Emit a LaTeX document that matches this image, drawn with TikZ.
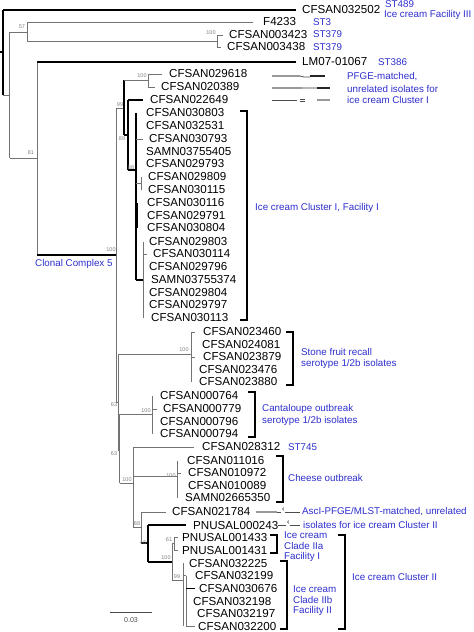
\documentclass[tikz,border=0pt]{standalone}
\usepackage{fontspec}
\setmainfont{Liberation Sans}
\definecolor{lblue}{RGB}{45,45,205}
\definecolor{brgray}{RGB}{115,115,115}
\begin{document}
\begin{tikzpicture}[x=1pt,y=-1pt,
  leaf/.style={anchor=west,inner sep=0pt,font=\fontsize{11.6}{12}\selectfont},
  lab/.style={anchor=west,inner sep=0pt,text=lblue,font=\fontsize{9.8}{11}\selectfont},
  sup/.style={inner sep=0pt,text=gray,font=\fontsize{5.5}{6}\selectfont},
  br/.style={draw=brgray,line width=0.9pt},
  brk/.style={draw=black,line width=1.3pt},
  brack/.style={draw=black,line width=1.5pt},
  bandk/.style={draw=black!85,line width=1.6pt},
  bandg/.style={draw=gray!80,line width=2.2pt},
  bandt/.style={draw=black!70,line width=0.8pt}]
\useasboundingbox (0,0) rectangle (474,632);

% ---------- leaves ----------
\node[leaf] (l1) at (302,10) {CFSAN032502};
\node[leaf] (l2) at (263,22) {F4233};
\node[leaf] (l3) at (229,35) {CFSAN003423};
\node[leaf] (l4) at (227,47) {CFSAN003438};
\node[leaf] (l5) at (302,62) {LM07-01067};
\node[leaf] (l6) at (169,74) {CFSAN029618};
\node[leaf] (l7) at (161,87) {CFSAN020389};
\node[leaf] (l8) at (150,100) {CFSAN022649};
\node[leaf] (c1) at (146,113) {CFSAN030803};
\node[leaf] (c2) at (146,126) {CFSAN032531};
\node[leaf] (c3) at (149,139) {CFSAN030793};
\node[leaf] (c4) at (146,152) {SAMN03755405};
\node[leaf] (c5) at (146,164) {CFSAN029793};
\node[leaf] (c6) at (148,177) {CFSAN029809};
\node[leaf] (c7) at (148,190) {CFSAN030115};
\node[leaf] (c8) at (147,203) {CFSAN030116};
\node[leaf] (c9) at (147,216) {CFSAN029791};
\node[leaf] (c10) at (147,228) {CFSAN030804};
\node[leaf] (c11) at (149,242) {CFSAN029803};
\node[leaf] (c12) at (153,254) {CFSAN030114};
\node[leaf] (c13) at (149,267) {CFSAN029796};
\node[leaf] (c14) at (151,280) {SAMN03755374};
\node[leaf] (c15) at (149,293) {CFSAN029804};
\node[leaf] (c16) at (149,305) {CFSAN029797};
\node[leaf] (c17) at (151,318) {CFSAN030113};
\node[leaf] (s1) at (203,332) {CFSAN023460};
\node[leaf] (s2) at (202,345) {CFSAN024081};
\node[leaf] (s3) at (203,357) {CFSAN023879};
\node[leaf] (s4) at (199,370) {CFSAN023476};
\node[leaf] (s5) at (199,382) {CFSAN023880};
\node[leaf] (t1) at (160,396) {CFSAN000764};
\node[leaf] (t2) at (163,409) {CFSAN000779};
\node[leaf] (t3) at (160,422) {CFSAN000796};
\node[leaf] (t4) at (160,434) {CFSAN000794};
\node[leaf] (l9) at (202,447) {CFSAN028312};
\node[leaf] (h1) at (187,461) {CFSAN011016};
\node[leaf] (h2) at (188,473) {CFSAN010972};
\node[leaf] (h3) at (188,485) {CFSAN010089};
\node[leaf] (h4) at (185,498) {SAMN02665350};
\node[leaf] (l10) at (172,512) {CFSAN021784};
\node[leaf] (p1) at (193,525) {PNUSAL000243};
\node[leaf] (p2) at (182,537) {PNUSAL001433};
\node[leaf] (p3) at (182,550) {PNUSAL001431};
\node[leaf] (b1) at (189,563) {CFSAN032225};
\node[leaf] (b2) at (195,575.5) {CFSAN032199};
\node[leaf] (b3) at (199,588.5) {CFSAN030676};
\node[leaf] (b4) at (193,601) {CFSAN032198};
\node[leaf] (b5) at (197,613.5) {CFSAN032197};
\node[leaf] (b6) at (198,626) {CFSAN032200};

% ---------- internal nodes ----------
\coordinate (n0) at (3,52);
\coordinate (n1) at (9.5,95);
\coordinate (n57) at (27,32);
\coordinate (na) at (217,41);
\coordinate (n81) at (37,158);
\coordinate (cc5) at (116,255);
\coordinate (n99) at (124,108);
\coordinate (nb) at (148,80);
\coordinate (n89) at (128,135);
\coordinate (n88) at (136,170);
\coordinate (ns1) at (141,183);
\coordinate (ns2) at (143,280);
\coordinate (n63a) at (118,402);
\coordinate (nst) at (191,354);
\coordinate (n63b) at (119.5,450);
\coordinate (nct) at (152,414);
\coordinate (nc) at (133,483);
\coordinate (nch) at (177,476);
\coordinate (n88b) at (141,527);
\coordinate (n46) at (148,543);
\coordinate (nd) at (172,562);
\coordinate (n61) at (174,543.5);
\coordinate (n99b) at (183,580);

% ---------- branches ----------
\draw[brk] (0,52) -- (n0);
\draw[brk] (n0 |- l1) -- (n0 |- n1);
\draw[brk] (n0 |- l1) -- ([xshift=-6pt]l1.west);
\draw[br] (n0 |- n1) -- (n1);
\draw[br] (n1 |- n57) -- (n1 |- n81);
\draw[br] (n1 |- n57) -- (n57);
\draw[br] (n1 |- n81) -- (n81);
\draw[br] (n57 |- l2) -- (n57 |- na);
\draw[br] (n57 |- l2) -- ([xshift=-10pt]l2.west);
\draw[br] (n57 |- na) -- (na);
\draw[br] (na |- l3) -- (na |- l4);
\draw[br] (na |- l3) -- ([xshift=-6pt]l3.west);
\draw[br] (na |- l4) -- ([xshift=-6pt]l4.west);
\draw[br] (n81 |- l5) -- (n81 |- cc5);
\draw[brk] (n81 |- l5) -- ([xshift=-6pt]l5.west);
\draw[brk] (n81 |- cc5) -- (cc5);
\draw[br] (cc5 |- n99) -- (cc5 |- n63a);
\draw[br] (cc5 |- n99) -- (n99);
\draw[br] (cc5 |- n63a) -- (n63a);
% cluster I side
\draw[brk] (n99 |- nb) -- (n99 |- n89);
\draw[br] (n99 |- nb) -- (nb);
\draw[br] (nb |- l6) -- (nb |- l7);
\draw[br] (nb |- l6) -- ([xshift=-7pt]l6.west);
\draw[br] (nb |- l7) -- ([xshift=-6pt]l7.west);
\draw[brk] (n99 |- n89) -- (n89);
\draw[brk] (n89 |- l8) -- (n89 |- n88);
\draw[brk] (n89 |- l8) -- ([xshift=-7pt]l8.west);
\draw[brk] (n89 |- n88) -- (n88);
\draw[brk] (n88 |- c1) -- (n88 |- ns2);
\draw[br] (n88 |- c3) -- ([xshift=-6pt]c3.west);
\draw[br] (n88 |- ns1) -- (ns1);
\draw[br] (ns1 |- c6) -- (ns1 |- c7);
\draw[brk] ([xshift=1.5pt]n88 |- c8) -- ([xshift=1.5pt]n88 |- c10);
\draw[brk] (n88 |- ns2) -- (ns2);
\draw[br,line width=0.7pt] (ns2 |- c11) -- (ns2 |- c17);
\draw[br,line width=0.7pt] (ns2 |- c12) -- ([xshift=-6pt]c12.west);
% lower part of CC5
\draw[br] (n63a |- nst) -- (n63a |- n63b);
\draw[br] (n63a |- nst) -- (nst);
\draw[br] (nst |- s1) -- (nst |- s5);
\draw[br] (nst |- s1) -- ([xshift=-8pt]s1.west);
\draw[br] (nst |- s3) -- ([xshift=-8pt]s3.west);
\draw[br] (n63a |- n63b) -- (n63b);
\draw[br] (n63b |- nct) -- (n63b |- nc);
\draw[br] (n63b |- nct) -- (nct);
\draw[br] (nct |- t1) -- (nct |- t4);
\draw[br] (nct |- t2) -- ([xshift=-6pt]t2.west);
\draw[br] (n63b |- nc) -- (nc);
\draw[br] (nc |- l9) -- (nc |- n88b);
\draw[br] (nc |- l9) -- ([xshift=-8pt]l9.west);
\draw[br] (nc |- nch) -- (nch);
\draw[br] (nch |- h1) -- (nch |- h4);
\draw[br] (nch |- h2) -- ([xshift=-7pt]h2.west);
\draw[br] (nc |- n88b) -- (n88b);
\draw[br] (n88b |- l10) -- (n88b |- n46);
\draw[br] (n88b |- l10) -- ([xshift=-6pt]l10.west);
\draw[brk] (n88b |- n46) -- (n46);
\draw[brk] (n46 |- p1) -- (n46 |- nd);
\draw[brk] (n46 |- p1) -- ([xshift=-7pt]p1.west);
\draw[brk] (n46 |- nd) -- (nd);
\draw[br] (nd |- n61) -- (nd |- n99b);
\draw[br] (nd |- n61) -- (n61);
\draw[br] (n61 |- p2) -- (n61 |- p3);
\draw[br] (n61 |- p2) -- ([xshift=-4pt]p2.west);
\draw[br] (n61 |- p3) -- ([xshift=-4pt]p3.west);
\draw[br] (nd |- n99b) -- (n99b);
\draw[br] (n99b |- b1) -- (n99b |- b6);
\draw[br] ([xshift=3pt]n99b |- b2) -- ([xshift=3pt]n99b |- b6);
\draw[br] (n99b |- b2) -- ([xshift=3pt]n99b |- b2);
\draw[brk] ([xshift=3pt]n99b |- b3) -- ([xshift=-4pt]b3.west);
\draw[br] ([xshift=3pt]n99b |- b6) -- ([xshift=-3pt]b6.west);

% ---------- support values ----------
\node[sup] at (22,27) {57};
\node[sup] at (211,33) {100};
\node[sup] at (31,153) {81};
\node[sup] at (111,250) {100};
\node[sup] at (120,105) {99};
\node[sup] at (142,76) {100};
\node[sup] at (122,139) {89};
\node[sup] at (131,168) {88};
\node[sup] at (184,350) {100};
\node[sup] at (114,405) {63};
\node[sup] at (146,411) {100};
\node[sup] at (114,454) {63};
\node[sup] at (127,480) {100};
\node[sup] at (171,476) {100};
\node[sup] at (137,524) {88};
\node[sup] at (143,543) {46};
\node[sup] at (166,558) {100};
\node[sup] at (169,540) {61};
\node[sup] at (177,577) {99};

% ---------- brackets ----------
\draw[brack] (240,111) -- (247,111) -- (247,320) -- (240,320);
\draw[brack] (286,332) -- (293,332) -- (293,385) -- (286,385);
\draw[brack] (248,392) -- (255,392) -- (255,437) -- (248,437);
\draw[brack] (276,456) -- (283,456) -- (283,502) -- (276,502);
\draw[brack] (270,535) -- (277,535) -- (277,553) -- (270,553);
\draw[brack] (280,561) -- (287,561) -- (287,629) -- (280,629);
\draw[brack] (338,535) -- (345,535) -- (345,629) -- (338,629);

% ---------- PFGE band marks ----------
\draw[bandg] (272,76) -- (300,76);
\draw[bandt] (300,76) -- (304,77) -- (310,77);
\draw[bandk] (310,76) -- (325,76);
\draw[bandg] (272,88) -- (302,88);
\draw[draw=gray!55,line width=1.8pt] (302,88) -- (317,88);
\draw[bandk] (317,88) -- (330,88);
\draw[bandt] (272,100) -- (297,100);
\draw[bandt,line width=0.5pt] (300,99) -- (305,99) (300,101) -- (305,101);
\draw[bandg] (317,100) -- (330,100);
\draw[bandg] (256,512) -- (277,512);
\draw[bandt] (277,512) -- (281,512);
\draw[bandt,line width=0.5pt] (284,510.5) arc (90:270:1.5);
\draw[bandt] (285,512) -- (300,512);
\draw[bandt] (278,525) -- (286,525);
\draw[bandt,line width=0.5pt] (289,523.5) arc (90:270:1.5);
\draw[bandt] (290,525) -- (300,525);

% ---------- blue labels ----------
\node[lab] at (385,4) {ST489};
\node[lab] at (384,15) {Ice cream Facility III};
\node[lab] at (313,22) {ST3};
\node[lab] at (313,34) {ST379};
\node[lab] at (313,47) {ST379};
\node[lab] at (378,62) {ST386};
\node[lab] at (347,77) {PFGE-matched,};
\node[lab] at (347,89) {unrelated isolates for};
\node[lab] at (347,100) {ice cream Cluster I};
\node[lab] at (255,208) {Ice cream Cluster I, Facility I};
\node[lab] at (35,264) {Clonal Complex 5};
\node[lab] at (301,352) {Stone fruit recall};
\node[lab] at (301,364) {serotype 1/2b isolates};
\node[lab] at (262,409) {Cantaloupe outbreak};
\node[lab] at (262,421) {serotype 1/2b isolates};
\node[lab] at (288,447) {ST745};
\node[lab] at (288,478) {Cheese outbreak};
\node[lab] at (302,512) {AscI-PFGE/MLST-matched, unrelated};
\node[lab] at (303,525) {isolates for ice cream Cluster II};
\node[lab] at (284,535) {Ice cream};
\node[lab] at (284,546) {Clade IIa};
\node[lab] at (284,557) {Facility I};
\node[lab] at (293,589) {Ice cream};
\node[lab] at (293,600) {Clade IIb};
\node[lab] at (293,611) {Facility II};
\node[lab] at (352,577) {Ice cream Cluster II};

% ---------- scale bar ----------
\coordinate (sb1) at (110,612);
\coordinate (sb2) at (152,612);
\draw[draw=black!70,line width=0.8pt] (sb1) -- (sb2);
\node[sup,font=\fontsize{7}{8}\selectfont,text=black!70] at (131,620) {0.03};
\end{tikzpicture}
\end{document}
